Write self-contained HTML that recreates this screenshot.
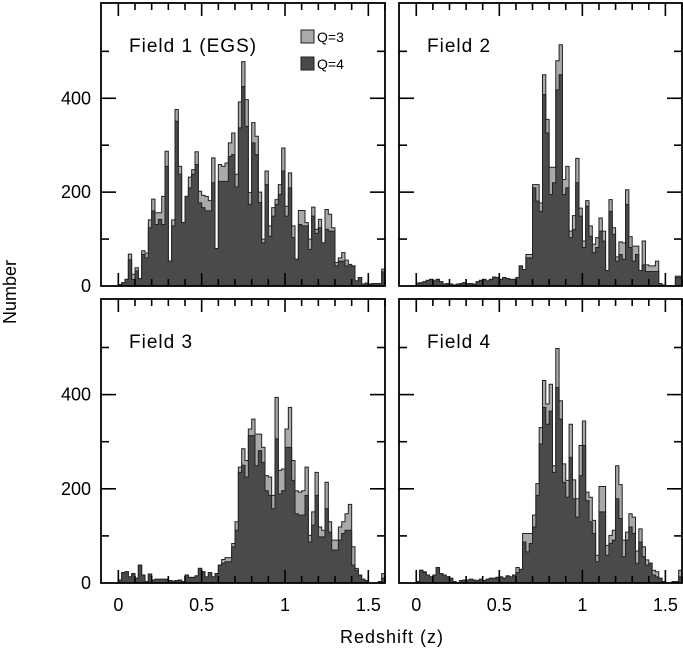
<!DOCTYPE html>
<html><head><meta charset="utf-8">
<style>
html,body{margin:0;padding:0;background:#fff;}
svg{display:block;font-family:"Liberation Sans",sans-serif;}
</style></head>
<body>
<svg id="chart" width="683" height="655" viewBox="0 0 683 655" xmlns="http://www.w3.org/2000/svg">
<text x="16" y="292" font-size="18" text-anchor="middle" transform="rotate(-90 16 292)">Number</text>
<text x="392" y="643" font-size="18" text-anchor="middle" letter-spacing="1">Redshift (z)</text>
</svg>
<script>
const binWidth = 0.02;
const p1Total = [3,7,14,68,25,39,16,75,70,141,185,156,156,191,287,53,141,376,255,135,191,232,248,286,202,193,191,182,273,80,259,255,262,305,326,238,392,478,397,199,348,319,200,100,245,128,167,184,216,294,170,241,128,57,161,161,135,100,168,121,142,92,163,153,124,50,60,71,55,46,43,11,18,4,6,4,5,5,5,36];
const p1Q4 = [3,7,14,56,14,32,16,67,60,124,160,131,142,131,255,53,128,351,238,135,191,209,238,259,177,167,160,160,220,80,223,223,223,276,280,211,337,425,340,174,305,280,178,92,216,106,149,174,195,245,149,209,103,57,131,128,128,78,149,112,124,92,121,117,117,43,53,53,43,43,43,11,18,4,6,4,5,5,5,30];
const p2Total = [6,7,9,12,14,11,14,9,4,5,4,2,4,5,7,5,5,4,9,12,14,11,14,19,18,14,18,16,14,14,18,43,35,67,67,216,216,177,450,355,253,253,480,514,227,255,117,150,272,166,96,182,128,89,103,145,117,33,184,124,62,94,92,205,105,85,85,33,96,45,43,43,53,5,2,0,0,0,21,21];
const p2Q4 = [6,7,9,12,14,11,14,9,4,5,4,2,4,5,7,5,5,4,9,12,14,11,14,19,18,14,18,16,14,14,18,43,35,60,60,209,181,159,408,326,195,220,418,450,195,209,103,120,220,149,82,170,106,71,82,117,96,33,159,110,53,67,57,174,82,53,67,33,45,31,31,31,31,5,2,0,0,0,18,18];
const p3Total = [6,22,24,13,20,10,38,17,3,19,6,8,8,8,8,5,4,5,6,3,17,12,12,15,31,24,13,22,13,20,38,50,54,54,84,130,246,285,260,327,348,316,316,288,228,225,186,394,239,242,327,373,260,196,193,196,246,101,151,235,119,112,214,130,91,91,119,130,147,167,77,31,17,8,5,0,0,0,3,20];
const p3Q4 = [6,22,24,13,20,10,38,17,3,19,6,8,8,8,8,5,4,5,6,3,17,12,12,15,31,24,13,22,13,20,38,42,45,45,77,112,235,250,225,313,313,249,281,256,196,186,158,306,189,196,288,288,218,147,144,144,186,87,123,186,98,98,158,108,70,70,91,105,112,112,38,27,17,8,5,0,0,0,3,10];
const p4Total = [3,27,24,17,13,17,33,20,17,13,10,3,1,5,6,6,8,6,5,8,5,8,10,10,12,13,10,15,13,17,33,29,105,105,105,144,211,330,430,380,422,249,498,387,253,218,337,219,179,292,344,193,182,133,59,205,205,80,101,112,249,209,91,108,147,140,68,115,77,49,42,27,24,10,3,0,0,3,3,27];
const p4Q4 = [3,27,22,17,13,17,33,20,17,13,10,3,1,5,6,6,8,6,5,8,5,8,10,10,12,13,10,15,13,17,22,29,87,66,84,119,186,295,373,337,365,235,415,348,214,182,267,179,140,228,292,175,130,105,45,151,151,59,84,91,179,137,56,91,119,105,42,87,56,38,42,17,13,10,3,0,0,3,3,13];
const xTickLabels = ["0","0.5","1","1.5"];
const xTickValues = [0,0.5,1,1.5];
const yTickLabels = ["0","200","400"];
const yTickValues = [0,200,400];
const fieldNames = ["Field 1 (EGS)","Field 2","Field 3","Field 4"];

const NS="http://www.w3.org/2000/svg";
const svg=document.getElementById('chart');
function mk(tag,attrs,parent){const e=document.createElementNS(NS,tag);for(const k in attrs)e.setAttribute(k,attrs[k]);(parent||svg).appendChild(e);return e;}
const X0=-0.104,X1=1.6,Y1=603;
const panels=[
 {x:101,y:3,w:284,h:283,t:p1Total,q:p1Q4,n:"field-1"},
 {x:399,y:3,w:283,h:283,t:p2Total,q:p2Q4,n:"field-2"},
 {x:101,y:299,w:284,h:284,t:p3Total,q:p3Q4,n:"field-3"},
 {x:399,y:299,w:283,h:284,t:p4Total,q:p4Q4,n:"field-4"}];
panels.forEach((p,i)=>{
  const sx=z=>p.x+(z-X0)/(X1-X0)*p.w;
  const sy=v=>p.y+p.h-v/Y1*p.h;
  const g=mk('g',{});
  
  
  function step(arr){
    let d='M'+sx(0)+','+sy(0);
    arr.forEach((v,k)=>{d+=' L'+sx(k*binWidth)+','+sy(v)+' L'+sx((k+1)*binWidth)+','+sy(v);});
    d+=' L'+sx(arr.length*binWidth)+','+sy(0)+' Z';return d;}
  const a=mk('path',{d:step(p.t),fill:'#a9a9a9',stroke:'#222','stroke-width':1},g);
  
  
  const b=mk('path',{d:step(p.q),fill:'#4a4a4a',stroke:'#222','stroke-width':1},g);
  
  
  for(let z=0;z<=1.6001;z+=0.1){
    const major=Math.abs(z*2-Math.round(z*2))<1e-6;const L=major?13:7;const xx=sx(z);
    mk('line',{x1:xx,x2:xx,y1:p.y+p.h,y2:p.y+p.h-L,stroke:'#000','stroke-width':1.6},g);
    mk('line',{x1:xx,x2:xx,y1:p.y,y2:p.y+L,stroke:'#000','stroke-width':1.6},g);
  }
  for(let v=100;v<=500;v+=100){
    const major=v%200===0;const L=major?15:8;const yy=sy(v);
    mk('line',{x1:p.x,x2:p.x+L,y1:yy,y2:yy,stroke:'#000','stroke-width':1.6},g);
    mk('line',{x1:p.x+p.w,x2:p.x+p.w-L,y1:yy,y2:yy,stroke:'#000','stroke-width':1.6},g);
  }
  const fr=mk('rect',{x:p.x,y:p.y,width:p.w,height:p.h,fill:'none',stroke:'#000','stroke-width':1.8},g);
  
  
  const tt=mk('text',{x:p.x+28,y:p.y+49,'font-size':19,'letter-spacing':1},g);
  tt.textContent=fieldNames[i];
  
  
  if(i%2===0){
    yTickValues.forEach((v,j)=>{
      const t=mk('text',{x:p.x-10,y:sy(v)+6,'font-size':18,'text-anchor':'end'});
      t.textContent=yTickLabels[j];
      
      
    });
  }
  if(i>=2){
    xTickValues.forEach((v,j)=>{
      const t=mk('text',{x:sx(v),y:611,'font-size':18,'text-anchor':'middle'});
      t.textContent=xTickLabels[j];
      
      
    });
  }
});
const lg=mk('g',{});


const l1=mk('rect',{x:301,y:30,width:13,height:13,fill:'#a9a9a9',stroke:'#222','stroke-width':1},lg);


const t1=mk('text',{x:317,y:42,'font-size':14},lg);t1.textContent='Q=3';


const l2=mk('rect',{x:301,y:57,width:13,height:13,fill:'#4a4a4a',stroke:'#222','stroke-width':1},lg);


const t2=mk('text',{x:317,y:69,'font-size':14},lg);t2.textContent='Q=4';


</script>
</body></html>
